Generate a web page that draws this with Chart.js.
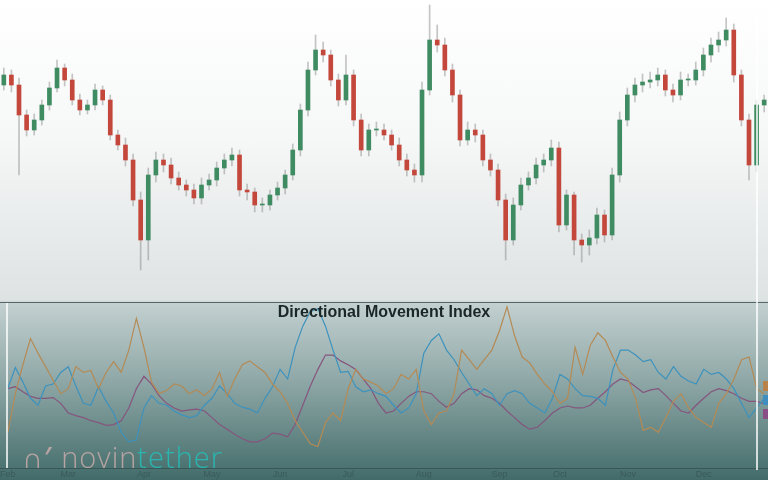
<!DOCTYPE html>
<html><head><meta charset="utf-8">
<script src="https://cdn.jsdelivr.net/npm/chart.js@4.4.0/dist/chart.umd.min.js"></script>
<style>
html,body{margin:0;padding:0;width:768px;height:480px;overflow:hidden;font-family:"Liberation Sans",Arial,sans-serif}
#bg{position:absolute;left:0;top:0;width:768px;height:480px;
background:linear-gradient(to bottom,#ffffff 0px,#f6f7f7 140px,#dde2e2 300px,#c3d0d0 303px,#8fa8a7 380px,#4a7270 470px,#426a68 480px)}
#c1{position:absolute;left:0;top:0}
#c2{position:absolute;left:0;top:303px}
.sep{position:absolute;left:0;width:768px;height:1px;background:#5a6666}
.vl{position:absolute;width:2px;background:rgba(255,255,255,0.75)}
#title{position:absolute;left:0;width:768px;top:303px;text-align:center;font-weight:bold;font-size:16px;color:#1b2626}
#wm{position:absolute;left:22px;top:437px;font-family:"Open Sans",sans-serif;font-size:29px;font-weight:300;letter-spacing:1px}
.tag{position:absolute;left:763px;width:5px;height:10px}
</style></head><body>
<div id="bg"></div>
<canvas id="c1" width="768" height="300"></canvas>
<canvas id="c2" width="768" height="177"></canvas>
<div class="sep" style="top:302px"></div>
<div class="sep" style="top:468px;background:rgba(40,60,60,0.5)"></div>
<div class="vl" style="left:6px;top:303px;height:165px"></div>
<div class="vl" style="left:756px;top:0;height:470px"></div>
<div id="title">Directional Movement Index</div>
<div id="wm"><span style="color:#b7a3a3;font-weight:600">&#8745;&#8242;</span><span style="color:#b7a3a3"> novin</span><span style="color:#2bb5b0">tether</span></div>
<div class="tag" style="top:381px;background:#b9824a"></div>
<div class="tag" style="top:395px;background:#3e8fc0"></div>
<div class="tag" style="top:409px;background:#8a4f86"></div>
<script>
const closes=[225,215,185,170,180,195,212,232,220,200,190,195,210,200,165,155,140,100,60,125,140,135,122,115,110,102,115,120,132,140,145,110,108,95,95,105,112,125,150,190,230,250,245,220,200,225,180,150,170,170,165,155,140,130,125,210,260,255,230,205,160,170,165,140,130,100,60,95,115,122,135,140,152,75,105,60,55,62,85,65,125,180,205,215,218,220,225,210,205,220,220,230,245,255,260,270,225,180,135,195,200];
const opens=[215,225,215,185,170,180,195,212,232,220,200,190,195,210,200,165,155,140,100,60,125,140,135,122,115,110,102,115,120,132,140,145,110,108,95,95,105,112,125,150,190,230,250,245,220,200,225,180,150,170,170,165,155,140,130,125,210,260,255,230,205,160,170,165,140,130,100,60,95,115,122,135,140,152,75,105,60,55,62,85,65,125,180,205,215,218,220,225,210,205,220,220,230,245,255,260,270,225,180,135,195];
const highs=[232,230,222,190,186,200,218,240,236,226,206,200,216,214,205,170,162,146,108,132,148,146,142,128,120,116,122,126,138,146,152,150,116,112,102,110,118,130,156,196,238,265,258,250,226,245,230,186,176,178,176,170,162,146,136,218,295,275,262,236,210,178,176,170,146,136,106,102,122,128,142,146,160,158,110,108,66,70,92,90,132,188,212,222,226,228,232,230,216,228,226,238,252,262,268,282,276,230,186,200,205];
const lows=[210,208,125,164,165,175,190,208,214,195,185,186,190,195,160,150,134,94,30,40,118,128,116,110,104,96,96,110,114,126,134,104,100,88,88,90,100,106,120,144,184,225,238,214,194,195,174,144,144,164,160,150,134,124,118,118,205,248,224,198,154,155,158,134,124,94,40,55,90,110,116,128,134,68,70,45,38,45,56,58,60,118,174,198,208,212,214,204,198,200,214,215,224,238,248,254,218,174,120,128,188];
const plusDI=[7.5,17.5,25,31.8,28,24.5,21,17.5,18.8,24.5,23,23.5,18.8,23,25.8,23,28.8,37,29.5,20.5,17.5,18.3,20,19.5,17.5,18.5,17,18.8,23,16.8,21.3,25,26,24.5,23,20,18,15,10.5,7.5,4.5,3.8,10,12.5,10.5,18.8,23.8,21.3,20.5,19.5,17.5,18.8,22.5,21.3,23.8,13,9.5,12.5,13,17.5,28.8,26.3,23.8,26.3,28.8,33.8,40,32.5,27,25.5,22.5,20,18,15,16.3,29.5,22.5,30,33.3,31.3,27,23,21.3,16.3,8,8.8,7.5,11.3,15.5,17.5,13.8,11.3,10,8.8,15,17.5,21.3,26.3,27,18.8,17.5];
const minusDI=[18.8,24.3,20.5,16.3,14.5,19.5,20,23,24.5,19.5,15,14.5,19.3,15.5,12.5,7.5,5,5.5,13.8,17,15,14.5,13,12,11.3,11.8,14.5,16.3,19.5,17.5,15,14,13.5,12.5,16.3,19.3,23.8,21.3,29.5,35,38.8,39.5,35,28.8,23,23.3,19.3,18,18.5,17.5,16.8,14.5,12.5,13.8,17.5,28,31.3,33,28.8,26.3,23,20,17,18.8,17.5,14.5,17.5,18.3,17.5,15,13.8,12.5,16.3,22.5,21.3,18.8,17,16.8,16.3,14.5,23.8,28.8,28.8,27.5,25.8,26.3,23,21.3,24.5,22,20.8,20,23.8,22.5,23,21.3,18.8,15,11.3,13.8,16.3];
const adx=[18.8,19.3,18,16.8,16.3,16.3,16.5,15,12.5,11.8,11.3,10.5,10,9.3,9.5,10.5,13.8,18.8,22,20,17,15,13.8,13,13.3,13.5,13,11.3,9.5,8.3,7,5.8,5,5,5.8,7.3,7,6.3,9.5,14.5,19.5,23.8,27.5,27.5,26,25,23.8,21.3,18.8,15,12.5,13,15,16.8,18,18,17.5,15.5,14,15,17.5,18.8,18.5,17,16.3,15,13,11.3,9.5,8.3,8.8,10.5,12.5,13.8,14.3,13.8,13.8,14.5,16.3,18,20,21.3,20.8,19.3,17.8,18.5,18.8,17,15,13,12.5,14.5,16.3,18,18.8,18.3,17.5,16.3,15.5,15.5,14.9];
const monthTicks={0:'Feb',8:'Mar',18:'Apr',27:'May',36:'Jun',45:'Jul',55:'Aug',65:'Sep',73:'Oct',82:'Nov',92:'Dec'};
const labels=closes.map((_,i)=>monthTicks[i]||'');
const up='#3f8c62',dn='#c4473b';
const col=ctx=>closes[ctx.dataIndex]>=opens[ctx.dataIndex]?up:dn;
new Chart(document.getElementById('c1'),{type:'bar',
 data:{labels,datasets:[
  {data:lows.map((l,i)=>[l,highs[i]]),backgroundColor:'rgba(140,140,140,0.5)',barThickness:1,grouped:false,order:2},
  {data:opens.map((o,i)=>[o,closes[i]===o?o+1:closes[i]]),backgroundColor:col,barThickness:4,grouped:false,order:1}]},
 options:{responsive:false,animation:false,plugins:{legend:{display:false},tooltip:{enabled:false}},
  layout:{padding:0},
  scales:{x:{display:false},y:{display:false,min:0,max:300}}}});
new Chart(document.getElementById('c2'),{type:'line',
 data:{labels,datasets:[
  {data:plusDI,borderColor:'#b48a55',borderWidth:1.2,pointRadius:0,tension:0},
  {data:minusDI,borderColor:'#3d92bd',borderWidth:1.2,pointRadius:0,tension:0},
  {data:adx,borderColor:'#85557e',borderWidth:1.2,pointRadius:0,tension:0}]},
 options:{responsive:false,animation:false,plugins:{legend:{display:false},tooltip:{enabled:false}},
  layout:{padding:0},
  scales:{x:{offset:true,grid:{display:false},border:{display:false},
    ticks:{autoSkip:false,maxRotation:0,color:'#3a5a59',font:{size:9},padding:0,callback:(v,i)=>labels[i]}},
   y:{display:false,min:0,max:41}}}});
</script>
</body></html>
